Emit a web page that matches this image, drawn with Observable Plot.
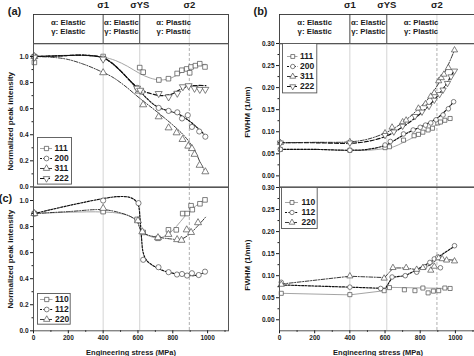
<!DOCTYPE html>
<html><head><meta charset="utf-8">
<script src="https://cdn.jsdelivr.net/npm/d3@7"></script>
<script src="https://cdn.jsdelivr.net/npm/@observablehq/plot@0.6"></script>
<style>
html,body{margin:0;padding:0;background:#fff;}
#root{position:relative;width:474px;height:356px;overflow:hidden;background:#fff;}
</style></head><body><div id="root"></div>
<script>
// ---------------- data ----------------
const stressTicks = [0, 200, 400, 600, 800, 1000];
const stressMinor = [100, 300, 500, 700, 900, 1100];
const sigmaNames = ["σ1", "σYS", "σ2"];
const sigmaStress = [400, 610, 895];
const zoneEdges = [0, 400, 610, 1000];
const zoneAlpha = ["α: Elastic", "α: Elastic", "α: Plastic"];
const zoneGamma = ["γ: Elastic", "γ: Plastic", "γ: Plastic"];
const intensityTicks = [0, 0.2, 0.4, 0.6, 0.8, 1.0];
const intensityMinor = [0.1, 0.3, 0.5, 0.7, 0.9];
const fwhmTicks = [0, 0.05, 0.10, 0.15, 0.20, 0.25, 0.30];
const fwhmMinor = [0.025, 0.075, 0.125, 0.175, 0.225, 0.275];
const planesTop = ["111", "200", "311", "222"];
const planesBottom = ["110", "112", "220"];

// (a) normalized peak intensity
const a111 = [[5,1.0],[5,0.955],[400,1.0],[610,0.915],[630,0.88],[720,0.82],[775,0.83],[825,0.87],[852,0.895],[880,0.905],[897,0.875],[905,0.92],[930,0.93],[955,0.945],[985,0.92]];
const a200 = [[5,1.0],[400,0.985],[595,0.76],[623,0.73],[719,0.606],[776,0.583],[826,0.572],[853,0.525],[886,0.55],[910,0.46],[952,0.425],[987,0.385]];
const a311 = [[5,1.0],[400,0.876],[604,0.735],[630,0.63],[719,0.538],[776,0.453],[822,0.415],[856,0.364],[889,0.313],[910,0.294],[925,0.25],[954,0.166],[987,0.116]];
const a222 = [[5,0.995],[400,0.98],[595,0.757],[613,0.741],[719,0.716],[776,0.69],[826,0.718],[858,0.768],[891,0.776],[925,0.756],[955,0.748],[987,0.748]];
const a111Fit = [[5,1.0],[100,1.005],[250,1.01],[400,0.995],[470,0.97],[540,0.925],[610,0.87],[670,0.835],[730,0.82],[790,0.835],[840,0.87],[890,0.91],[940,0.935],[990,0.94]];
const a200Fit = [[5,1.0],[150,1.005],[300,1.01],[400,0.99],[450,0.95],[500,0.89],[550,0.82],[600,0.755],[650,0.68],[710,0.615],[770,0.585],[830,0.56],[890,0.51],[940,0.455],[990,0.39]];
const a311Fit = [[5,1.0],[100,0.995],[190,0.98],[290,0.94],[380,0.89],[450,0.845],[520,0.78],[610,0.68],[710,0.575],[800,0.475],[860,0.4],[900,0.335],[935,0.255],[960,0.18],[990,0.11]];
const a222Fit = [[5,1.0],[150,1.005],[300,1.01],[400,0.99],[450,0.95],[500,0.89],[550,0.82],[600,0.755],[640,0.73],[690,0.71],[740,0.7],[790,0.71],[840,0.745],[890,0.773],[940,0.778],[990,0.777]];

// (b) FWHM (1/nm)
const b111 = [[5,0.06],[400,0.058],[600,0.064],[625,0.066],[705,0.081],[765,0.091],[790,0.094],[815,0.099],[845,0.104],[870,0.108],[900,0.12],[915,0.122],[940,0.126],[970,0.13]];
const b200 = [[5,0.06],[400,0.058],[600,0.07],[630,0.078],[705,0.095],[760,0.104],[800,0.11],[830,0.115],[860,0.12],[890,0.127],[930,0.138],[960,0.152],[990,0.168]];
const b311 = [[5,0.075],[400,0.077],[600,0.097],[640,0.11],[700,0.122],[720,0.126],[790,0.153],[830,0.163],[860,0.18],[880,0.188],[905,0.215],[920,0.222],[935,0.23],[960,0.245],[995,0.285]];
const b222 = [[5,0.075],[400,0.075],[600,0.092],[650,0.1],[700,0.113],[770,0.135],[810,0.145],[850,0.158],[880,0.172],[910,0.185],[930,0.195],[955,0.21],[975,0.225],[995,0.238]];
const b111Fit = [[5,0.06],[200,0.06],[400,0.058],[500,0.058],[600,0.062],[650,0.066],[700,0.075],[760,0.087],[820,0.1],[880,0.113],[930,0.123],[975,0.132]];
const b200Fit = [[5,0.06],[200,0.06],[400,0.058],[500,0.06],[600,0.069],[660,0.082],[720,0.096],[780,0.107],[840,0.118],[900,0.132],[950,0.15],[990,0.168]];
const b311Fit = [[5,0.075],[200,0.076],[400,0.077],[500,0.083],[600,0.097],[660,0.11],[720,0.127],[780,0.148],[840,0.172],[890,0.2],[940,0.235],[995,0.285]];
const b222Fit = [[5,0.075],[200,0.075],[400,0.074],[500,0.078],[600,0.089],[660,0.101],[720,0.116],[780,0.134],[840,0.155],[890,0.177],[940,0.203],[995,0.24]];

// (c) normalized peak intensity
const c110 = [[5,0.9],[400,0.915],[595,0.855],[630,0.755],[715,0.71],[775,0.775],[820,0.775],[857,0.9],[883,0.9],[905,0.96],[912,0.93],[956,0.975],[985,1.005]];
const c112 = [[5,0.9],[400,1.0],[603,0.98],[630,0.545],[718,0.488],[776,0.45],[824,0.432],[853,0.436],[882,0.424],[910,0.442],[949,0.428],[985,0.454]];
const c220 = [[5,0.9],[400,0.94],[600,0.845],[625,0.76],[715,0.715],[775,0.74],[825,0.7],[850,0.695],[880,0.775],[905,0.755],[945,0.83]];
const c110Fit = [[5,0.9],[200,0.91],[400,0.912],[500,0.9],[560,0.875],[595,0.84],[610,0.79],[625,0.755],[670,0.725],[720,0.712],[770,0.74],[820,0.8],[870,0.88],[920,0.945],[985,1.01]];
const c112Fit = [[5,0.9],[100,0.93],[250,0.975],[400,1.015],[480,1.03],[550,1.025],[585,1.0],[603,0.96],[612,0.86],[620,0.72],[630,0.6],[650,0.54],[700,0.49],[760,0.455],[850,0.432],[930,0.425],[985,0.45]];
const c220Fit = [[5,0.9],[200,0.915],[400,0.93],[500,0.905],[560,0.875],[595,0.84],[610,0.79],[625,0.755],[670,0.73],[730,0.715],[790,0.705],[840,0.7],[890,0.735],[940,0.8],[990,0.875]];

// (d) FWHM (1/nm)
const d110 = [[10,0.06],[400,0.057],[595,0.066],[625,0.073],[710,0.068],[770,0.066],[815,0.072],[845,0.061],[875,0.065],[905,0.066],[940,0.072],[970,0.071]];
const d112 = [[10,0.085],[400,0.074],[575,0.071],[640,0.097],[715,0.1],[780,0.108],[825,0.12],[855,0.13],[880,0.138],[900,0.142],[915,0.118],[995,0.168]];
const d220 = [[10,0.08],[400,0.099],[595,0.094],[645,0.118],[720,0.118],[780,0.114],[815,0.118],[860,0.112],[880,0.121],[905,0.14],[925,0.138],[950,0.135],[995,0.133]];
const d110Fit = [[10,0.06],[400,0.0565],[597,0.066],[626,0.0735],[972,0.071]];
const d112Fit = [[10,0.079],[400,0.074],[575,0.0715],[603,0.0715],[641,0.0965],[717,0.1],[855,0.13],[1000,0.168]];
const d220Fit = [[10,0.081],[400,0.0987],[597,0.0957],[647,0.1175],[717,0.1175],[777,0.1138],[858,0.124],[896,0.138],[1000,0.135]];

// ---------------- drawing ----------------
const root = document.getElementById("root");
const FONT = "'Liberation Sans', Arial, sans-serif";
const baseStyle = {fontFamily: FONT, fontWeight: "bold", fontSize: "6.5px", color: "#1a1a1a", background: "transparent", overflow: "visible"};
const triangleDown = {draw(ctx, size) {
  const y = -Math.sqrt(size / (Math.sqrt(3) * 3));
  ctx.moveTo(0, -2 * y); ctx.lineTo(-Math.sqrt(3) * y, y); ctx.lineTo(Math.sqrt(3) * y, y); ctx.closePath();
}};
const STYLE = [
  {symbol: "square", stroke: "#9a9a9a", width: 0.9, dash: null},
  {symbol: "circle", stroke: "#111", width: 1.2, dash: "2,1.4"},
  {symbol: "triangle", stroke: "#222", width: 0.9, dash: "4,1.5,1,1.5"},
  {symbol: triangleDown, stroke: "#111", width: 1.2, dash: "4,2"}
];
const xy = {x: d => d[0], y: d => d[1]};

function mount(svg, left, top) {
  svg.style.position = "absolute";
  svg.style.left = left + "px";
  svg.style.top = top + "px";
  root.appendChild(svg);
}

function panel(o) {
  const marks = [
    Plot.ruleX(sigmaStress.slice(0, 2), {stroke: "#c8c8c8", strokeWidth: 0.8}),
    Plot.ruleX(sigmaStress.slice(2), {stroke: "#9a9a9a", strokeWidth: 0.8, strokeDasharray: "3,2"})
  ];
  o.series.forEach((s, i) => {
    const st = STYLE[i];
    marks.push(Plot.line(s.fit, {...xy, curve: o.curve, stroke: st.stroke, strokeWidth: st.width, strokeDasharray: st.dash}));
  });
  o.series.forEach((s, i) => {
    const st = STYLE[i];
    marks.push(Plot.dot(s.pts, {...xy, symbol: st.symbol, r: o.r, stroke: "#4a4a4a", strokeWidth: 0.7, fill: "white"}));
  });
  marks.push(Plot.frame({stroke: "#555", strokeWidth: 1}));
  marks.push(Plot.axisY({ticks: o.yTicks, tickSize: 3, tickPadding: 2, tickFormat: o.yFormat, fontSize: 6.5}));
  marks.push(Plot.axisY({ticks: o.yMinor, tickSize: 1.5, tickFormat: () => ""}));
  marks.push(Plot.text([o.yLabel], {frameAnchor: "left", dx: o.yLabelDx, dy: o.yLabelDy || 0, rotate: -90, textAnchor: "middle", lineAnchor: "middle", fontSize: 8}));
  if (o.xAxis) {
    marks.push(Plot.axisX({ticks: stressTicks, tickSize: 3, tickPadding: 1.5, tickFormat: d3.format("d"), fontSize: 6.5}));
    marks.push(Plot.axisX({ticks: stressMinor, tickSize: 1.5, tickFormat: () => ""}));
    marks.push(Plot.text(["Engineering stress (MPa)"], {frameAnchor: "bottom", dy: 22, textAnchor: "middle", lineAnchor: "middle", fontSize: 7.5}));
  }
  if (o.letter) marks.push(Plot.text([o.letter], {frameAnchor: "top-left", dx: o.letterDx, dy: o.letterDy, textAnchor: "middle", lineAnchor: "middle", fontSize: 11}));
  const x = {domain: [0, 1120]};
  if (!o.xAxis) x.axis = null;
  return Plot.plot({width: o.w, height: o.h, margin: 0, x, y: {domain: o.yDomain, axis: null}, style: baseStyle, marks});
}

function header(o) {
  const zones = zoneAlpha.map((a, i) => ({a, g: zoneGamma[i], x: (zoneEdges[i] + zoneEdges[i + 1]) / 2}));
  return Plot.plot({
    width: o.w, height: 29.3, margin: 0,
    x: {domain: [0, 1120], axis: null}, y: {domain: [0, 1], axis: null},
    style: baseStyle,
    marks: [
      Plot.ruleX(sigmaStress.slice(2), {stroke: "#cfcfcf", strokeWidth: 0.8}),
      Plot.frame({stroke: "#333", strokeWidth: 0.9}),
      Plot.ruleX(sigmaStress.slice(0, 2), {stroke: "#333", strokeWidth: 0.9}),
      Plot.text(zones, {x: "x", text: "a", frameAnchor: "top", dy: 7.7, lineAnchor: "middle", fontSize: 7.8}),
      Plot.text(zones, {x: "x", text: "g", frameAnchor: "top", dy: 17, lineAnchor: "middle", fontSize: 7.8}),
      Plot.text(sigmaNames, {x: (d, i) => sigmaStress[i], frameAnchor: "top", dy: -9.5, lineAnchor: "middle", fontSize: 9.5}),
      Plot.text([o.letter], {frameAnchor: "top-left", dx: -19, dy: -3.5, textAnchor: "middle", lineAnchor: "middle", fontSize: 11})
    ]
  });
}

function legend(o) {
  const marks = [Plot.frame({fill: "white", stroke: "#555", strokeWidth: 0.9})];
  o.names.forEach((n, i) => {
    const st = STYLE[i];
    marks.push(Plot.ruleY([n], {x1: o.x1, x2: o.x2, stroke: st.stroke, strokeWidth: st.width, strokeDasharray: st.dash}));
    marks.push(Plot.dot([n], {x: (o.x1 + o.x2) / 2, y: d => d, symbol: st.symbol, r: o.r, stroke: "#4a4a4a", fill: "white", strokeWidth: 0.7}));
    marks.push(Plot.text([n], {x: o.tx, y: d => d, text: d => d, textAnchor: "start", lineAnchor: "middle", fontSize: 8.5}));
  });
  return Plot.plot({
    width: o.w, height: o.h, margin: 0,
    x: {domain: [0, o.w], range: [0, o.w], axis: null},
    y: {type: "point", domain: o.names, range: o.rows, padding: 0, axis: null},
    style: baseStyle, marks
  });
}

// headers
mount(header({w: 195, letter: "(a)"}), 33, 14);
mount(header({w: 197, letter: "(b)"}), 279, 14);

// panels
mount(panel({
  w: 195, h: 143.4, yDomain: [0, 1.1], yTicks: intensityTicks, yMinor: intensityMinor, yFormat: d3.format(".1f"),
  yLabel: "Normalized peak intensity", yLabelDx: -23, yLabelDy: 6, curve: "catmull-rom", r: 2.6,
  series: [{pts: a111, fit: a111Fit}, {pts: a200, fit: a200Fit}, {pts: a311, fit: a311Fit}, {pts: a222, fit: a222Fit}]
}), 33, 43.3);
mount(panel({
  w: 197, h: 143.4, yDomain: [-0.025, 0.30], yTicks: fwhmTicks, yMinor: fwhmMinor, yFormat: d3.format(".2f"),
  yLabel: "FWHM (1/nm)", yLabelDx: -32, yLabelDy: -3, curve: "catmull-rom", r: 2.3,
  series: [{pts: b111, fit: b111Fit}, {pts: b200, fit: b200Fit}, {pts: b311, fit: b311Fit}, {pts: b222, fit: b222Fit}]
}), 279, 43.3);
mount(panel({
  w: 195, h: 143.3, yDomain: [0, 1.1], yTicks: intensityTicks, yMinor: intensityMinor, yFormat: d3.format(".1f"),
  yLabel: "Normalized peak intensity", yLabelDx: -23, curve: "catmull-rom", r: 2.6, xAxis: true,
  letter: "(c)", letterDx: -28, letterDy: 11,
  series: [{pts: c110, fit: c110Fit}, {pts: c112, fit: c112Fit}, {pts: c220, fit: c220Fit}]
}), 33, 186.7);
mount(panel({
  w: 197, h: 143.3, yDomain: [-0.025, 0.30], yTicks: fwhmTicks, yMinor: fwhmMinor, yFormat: d3.format(".2f"),
  yLabel: "FWHM (1/nm)", yLabelDx: -32, yLabelDy: 6, curve: "linear", r: 2.3, xAxis: true,
  letter: "(d)", letterDx: 11, letterDy: 9,
  series: [{pts: d110, fit: d110Fit}, {pts: d112, fit: d112Fit}, {pts: d220, fit: d220Fit}]
}), 279, 186.7);

// legends
mount(legend({names: planesTop, w: 34, h: 46.6, rows: [10.5, 40.5], x1: 3, x2: 15, tx: 17, r: 2.4}), 36.7, 136.7);
mount(legend({names: planesTop, w: 34.3, h: 49.4, rows: [11.7, 43.4], x1: 5, x2: 15.5, tx: 17.5, r: 2.2}), 282, 43.3);
mount(legend({names: planesBottom, w: 32.7, h: 30.7, rows: [5.7, 26.7], x1: 3, x2: 15.5, tx: 17.5, r: 2.4}), 37.3, 293.3);
mount(legend({names: planesBottom, w: 35.7, h: 41, rows: [15, 35.6], x1: 4, x2: 17, tx: 20, r: 2.2}), 281.3, 186.7);
</script></body></html>
